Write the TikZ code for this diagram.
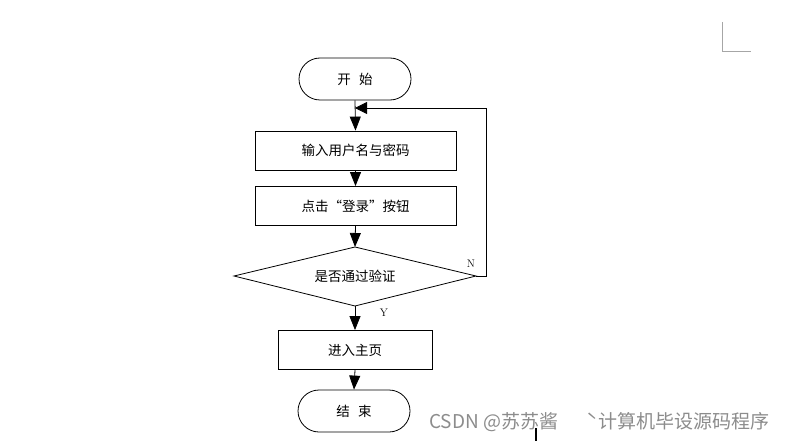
\documentclass[tikz,border=0pt]{standalone}
\usepackage{fontspec}
\newfontfamily\cjk{Noto Sans CJK SC}
\usetikzlibrary{arrows.meta}
\begin{document}
\begin{tikzpicture}[x=1pt,y=-1pt,
  every node/.style={font=\cjk\fontsize{13.5}{15}\selectfont},
  term/.style={draw,line width=0.8pt,rounded corners=21pt,minimum width=112pt,minimum height=42pt,inner sep=0pt},
  proc/.style={draw,line width=0.8pt,minimum height=39pt,inner sep=0pt},
  dec/.style={draw,line width=0.8pt},
  arr/.style={line width=0.8pt,-{Triangle[length=14pt,width=11pt]}},
  lab/.style={font=\fontsize{11}{13}\selectfont}]
\useasboundingbox (0,0) rectangle (787,441);
\node[term] (start) at (355,79) {开\hspace{0.6em}始};
\node[proc,minimum width=201pt] (b1) at (355.5,150.5) {输入用户名与密码};
\node[proc,minimum width=201pt] (b2) at (355.5,206) {点击“登录”按钮};
\coordinate (dc) at (355,276);
\draw[dec] (234,276) coordinate (dl) -- (355,247) coordinate (dt) -- (476,276) coordinate (dr) -- (355,306) coordinate (db) -- cycle;
\node at (dc) {是否通过验证};
\node[proc,minimum width=154pt] (b3) at (355,350) {进入主页};
\node[term] (end) at (354,411) {结\hspace{0.6em}束};
\coordinate (j) at (355,108);
\draw[arr] (start.south) -- (b1.north);
\draw[arr] (b1.south) -- (b2.north);
\draw[arr] (b2.south) -- (dt);
\draw[arr] (db) -- (b3.north);
\draw[arr] (b3.south) -- (end.north);
\draw[arr,-{Triangle[length=12pt,width=12pt]}] (dr) -- (486,276) -- (486,108) -- (j);
\node[lab] (n) at (471,264) {N};
\node[lab] (y) at (384,313) {Y};
\node[font=\cjk\fontsize{19}{21}\selectfont,text=black!45,anchor=west,inner sep=0pt] (wm) at (429,422) {CSDN @苏苏酱\hspace{1.5em}ˋ计算机毕设源码程序};
\draw[black!35,line width=0.8pt] (722,22) -- (722,51) -- (751,51);
\draw[line width=1.5pt] (536,428) -- (536,441);
\end{tikzpicture}
\end{document}
